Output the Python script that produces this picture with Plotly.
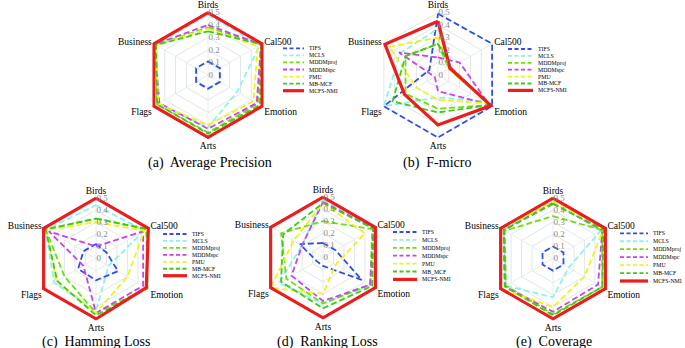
import plotly.graph_objects as go

# ---------------- data ----------------
categories = ["Birds", "Cal500", "Emotion", "Arts", "Flags", "Business"]
methods = ["TIFS", "MCLS", "MDDMproj", "MDDMspc", "PMU", "MB-MCF", "MCFS-NMI"]
radial_ticks = [0, 0.1, 0.2, 0.3, 0.4, 0.5]
radial_tick_labels = ["0", "0.1", "0.2", "0.3", "0.4", "0.5"]

# rows follow `methods`, columns follow `categories`
average_precision = [
    [0.11, 0.11, 0.11, 0.11, 0.11, 0.11],
    [0.48, 0.48, 0.27, 0.42, 0.46, 0.48],
    [0.38, 0.49, 0.46, 0.46, 0.47, 0.48],
    [0.40, 0.49, 0.45, 0.43, 0.45, 0.49],
    [0.37, 0.46, 0.42, 0.40, 0.46, 0.48],
    [0.35, 0.49, 0.48, 0.47, 0.47, 0.48],
    [0.50, 0.50, 0.50, 0.50, 0.50, 0.50],
]
f_micro = [
    [0.49, 0.50, 0.50, 0.50, 0.50, 0.08],
    [0.37, 0.12, 0.42, 0.18, 0.50, 0.35],
    [0.25, 0.10, 0.48, 0.27, 0.30, 0.30],
    [0.14, 0.20, 0.47, 0.13, 0.03, 0.36],
    [0.30, 0.10, 0.45, 0.20, 0.20, 0.45],
    [0.25, 0.12, 0.48, 0.30, 0.42, 0.30],
    [0.43, 0.11, 0.49, 0.40, 0.31, 0.49],
]
hamming_loss = [
    [0.12, 0.10, 0.21, 0.18, 0.17, 0.12],
    [0.44, 0.46, 0.12, 0.43, 0.40, 0.48],
    [0.33, 0.48, 0.49, 0.45, 0.30, 0.48],
    [0.10, 0.45, 0.45, 0.45, 0.12, 0.45],
    [0.30, 0.46, 0.30, 0.45, 0.38, 0.47],
    [0.33, 0.49, 0.49, 0.47, 0.37, 0.48],
    [0.50, 0.50, 0.48, 0.50, 0.50, 0.50],
]
ranking_loss = [
    [0.12, 0.12, 0.37, 0.07, 0.06, 0.22],
    [0.48, 0.48, 0.46, 0.38, 0.42, 0.20],
    [0.30, 0.47, 0.45, 0.38, 0.35, 0.40],
    [0.46, 0.48, 0.45, 0.36, 0.30, 0.20],
    [0.45, 0.40, 0.12, 0.30, 0.50, 0.28],
    [0.45, 0.48, 0.47, 0.42, 0.40, 0.38],
    [0.50, 0.50, 0.50, 0.50, 0.50, 0.50],
]
coverage = [
    [0.10, 0.10, 0.10, 0.10, 0.10, 0.10],
    [0.48, 0.45, 0.15, 0.32, 0.45, 0.47],
    [0.35, 0.47, 0.47, 0.46, 0.45, 0.46],
    [0.46, 0.47, 0.43, 0.44, 0.46, 0.47],
    [0.47, 0.48, 0.30, 0.40, 0.50, 0.49],
    [0.45, 0.48, 0.47, 0.47, 0.46, 0.47],
    [0.50, 0.50, 0.50, 0.50, 0.50, 0.50],
]
captions = ["(a)  Average Precision", "(b)  F-micro", "(c)  Hamming Loss",
            "(d)  Ranking Loss", "(e)  Coverage"]
legend_names = [methods, methods, methods,
                ["TIFS", "MCLS", "MDDMproj", "MDDMspc", "PMU", "MB_MCF", "MCFS-NMI"],
                methods]

# ---------------- styling / layout ----------------
W, H = 685, 348
R_MAX = 0.515         # a little headroom so the outer 0.5 lines are not clipped
colors = ["#2f4fe6", "#8ff0f0", "#70dd10", "#c843ec", "#f2f21a", "#3fcc10", "#ee1c1c"]
widths = [1.8, 1.8, 1.8, 1.8, 1.8, 1.8, 3.2]
dashes = ["6px,3px"] * 6 + ["solid"]

panels = [
    dict(data=average_precision, cx=208, cy=75, r=62.5, lx0=283, lx1=304, tx=307, ly=48.3, ls=7.07, capx=210, capy=163),
    dict(data=f_micro, cx=438, cy=75, r=62.5, lx0=508, lx1=533, tx=536, ly=49, ls=6.9, capx=437, capy=163),
    dict(data=hamming_loss, cx=96, cy=258.5, r=60.5, lx0=163, lx1=187, tx=190, ly=234, ls=6.95, capx=96, capy=342),
    dict(data=ranking_loss, cx=323, cy=257.5, r=60.5, lx0=393, lx1=417, tx=420, ly=232, ls=7.9, capx=327, capy=342),
    dict(data=coverage, cx=553, cy=258.5, r=60.5, lx0=620, lx1=648, tx=651, ly=233.3, ls=7.95, capx=554, capy=342),
]

SERIF = "Liberation Serif"
fig = go.Figure()
layout = dict(width=W, height=H, margin=dict(l=0, r=0, t=0, b=0),
              paper_bgcolor="white", plot_bgcolor="white", showlegend=False)
shapes, annotations = [], []

for i, p in enumerate(panels):
    pname = "polar" if i == 0 else f"polar{i + 1}"
    for j, m in enumerate(methods):
        vals = p["data"][j]
        fig.add_trace(go.Scatterpolar(
            r=vals + [vals[0]], theta=categories + [categories[0]],
            mode="lines", name=m, subplot=pname,
            line=dict(color=colors[j], width=widths[j], dash=dashes[j]),
        ))
    rr = p["r"] * R_MAX / 0.5
    x0 = (p["cx"] - rr) / W
    x1 = (p["cx"] + rr) / W
    y0 = 1 - (p["cy"] + rr) / H
    y1 = 1 - (p["cy"] - rr) / H
    layout[pname] = dict(
        domain=dict(x=[x0, x1], y=[y0, y1]),
        bgcolor="rgba(0,0,0,0)",
        gridshape="linear",
        radialaxis=dict(range=[0, R_MAX], tickvals=radial_ticks,
                        ticktext=[t + "\u00a0\u00a0" for t in radial_tick_labels],
                        angle=90, tickangle=90, side="clockwise",
                        showline=False, ticks="", gridcolor="#dfe8e8", gridwidth=0.8,
                        tickfont=dict(family=SERIF, size=9, color="#8a8a8a")),
        angularaxis=dict(direction="clockwise", rotation=90, categoryorder="array",
                         categoryarray=categories, showline=False,
                         gridcolor="#e8eeee", ticks="",
                         tickfont=dict(family=SERIF, size=9.5, color="black")),
    )
    for j, nm in enumerate(legend_names[i]):
        yy = 1 - (p["ly"] + j * p["ls"]) / H
        shapes.append(dict(type="line", xref="paper", yref="paper",
                           x0=p["lx0"] / W, x1=p["lx1"] / W, y0=yy, y1=yy,
                           line=dict(color=colors[j], width=widths[j],
                                     dash="4px,2.5px" if j < 6 else "solid")))
        annotations.append(dict(text=nm, xref="paper", yref="paper", x=p["tx"] / W, y=yy,
                                xanchor="left", yanchor="middle", showarrow=False,
                                font=dict(family=SERIF, size=5.8, color="black")))
    annotations.append(dict(text=captions[i], xref="paper", yref="paper",
                            x=p["capx"] / W, y=1 - p["capy"] / H,
                            xanchor="center", yanchor="middle", showarrow=False,
                            font=dict(family=SERIF, size=14, color="black")))

layout["shapes"] = shapes
layout["annotations"] = annotations
fig.update_layout(**layout)
fig.write_html("out.html", config={"displayModeBar": False},
               post_script="document.body.style.margin='0';")
